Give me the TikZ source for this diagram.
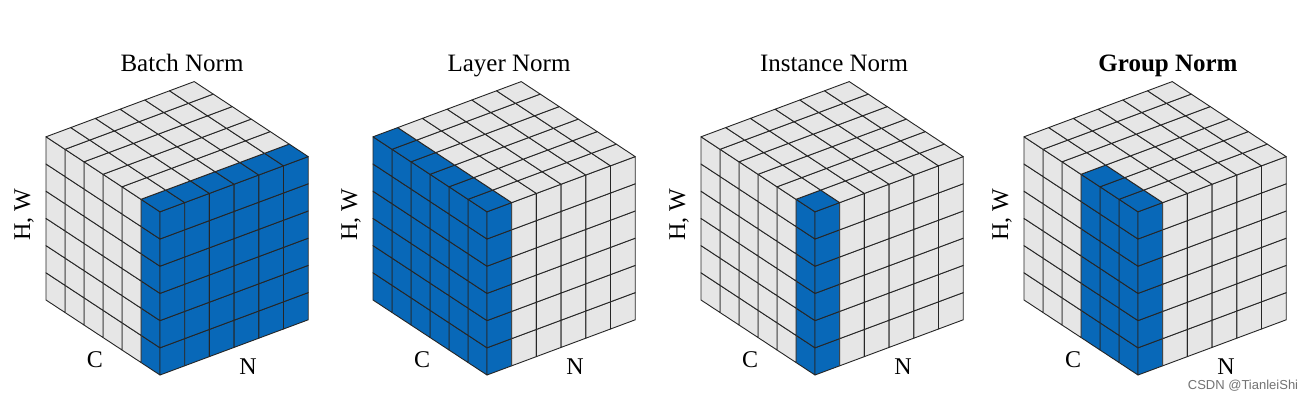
\documentclass[tikz,border=0pt]{standalone}
\usepackage{fontspec}
\setmainfont{Liberation Serif}
\newfontfamily\wmfont{Liberation Sans}
\definecolor{cb}{RGB}{8,104,184}
\definecolor{cg}{RGB}{230,230,230}
\tikzset{cell/.style={draw=black!85,line width=0.9pt,line join=round},
  ttl/.style={font=\fontsize{25}{30}\selectfont,anchor=base},
  axl/.style={font=\fontsize{24}{28}\selectfont}}
\newcommand\drawcube[3]{%
\begin{scope}[shift={(#1,375)}]
\foreach \ci in {0,...,5}{\foreach \hi in {0,...,5}{%
  \ifnum\ci<#2 \def\fc{cb}\else\def\fc{cg}\fi
  \filldraw[cell,fill=\fc] (-19*\ci,-12.5*\ci-27.2*\hi) -- ++(-19,-12.5) -- ++(0,-27.2) -- ++(19,12.5) -- cycle;
}}
\foreach \ni in {0,...,5}{\foreach \hi in {0,...,5}{%
  \ifnum\ni<#3 \def\fc{cb}\else\def\fc{cg}\fi
  \filldraw[cell,fill=\fc] (24.7*\ni,-9.2*\ni-27.2*\hi) -- ++(24.7,-9.2) -- ++(0,-27.2) -- ++(-24.7,9.2) -- cycle;
}}
\foreach \ci in {0,...,5}{\foreach \ni in {0,...,5}{%
  \def\fc{cg}%
  \ifnum\ci<#2 \ifnum\ni<#3 \def\fc{cb}\fi\fi
  \filldraw[cell,fill=\fc] (-19*\ci+24.7*\ni,-163.2-12.5*\ci-9.2*\ni) -- ++(-19,-12.5) -- ++(24.7,-9.2) -- ++(19,12.5) -- cycle;
}}
\end{scope}}
\begin{document}
\begin{tikzpicture}[x=1pt,y=-1pt]
\useasboundingbox[fill=white] (0,0) rectangle (1316,401);
\drawcube{160}{1}{6}
\drawcube{487}{6}{1}
\drawcube{815}{1}{1}
\drawcube{1138}{3}{1}
\node[ttl] (t1) at (182,72) {Batch Norm};
\node[ttl] (t2) at (509,72) {Layer Norm};
\node[ttl] (t3) at (834,72) {Instance Norm};
\node[ttl,font=\fontsize{25}{30}\selectfont\bfseries] (t4) at (1168,72) {Group Norm};
\foreach \x/\k in {160/1,487/2,815/3,1138/4}{
  \node[axl,rotate=90] (hw\k) at (\x-136,215) {H, W};
  \node[axl] (c\k) at (\x-65,360) {C};
  \node[axl] (n\k) at (\x+88,367) {N};
}
\node[font=\wmfont\fontsize{13}{15}\selectfont,text=black!55] (wm) at (1243,386) {CSDN @TianleiShi};
\end{tikzpicture}
\end{document}
